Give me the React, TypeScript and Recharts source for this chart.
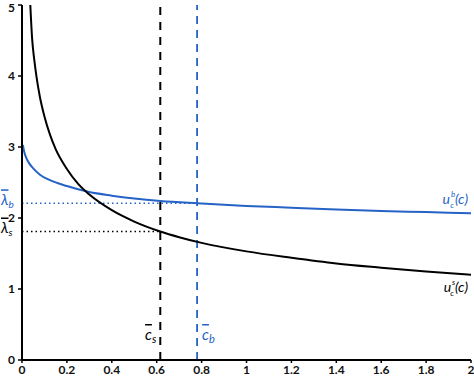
import { LineChart, Line, XAxis, YAxis, ReferenceLine, ReferenceDot } from 'recharts';

const xTicks = [0, 0.2, 0.4, 0.6, 0.8, 1, 1.2, 1.4, 1.6, 1.8, 2];
const yTicks = [0, 1, 2, 3, 4, 5];

// seller marginal utility u_c^s(c)
const sellerC = [0.037, 0.045, 0.055, 0.065, 0.08, 0.1, 0.125, 0.15, 0.2, 0.25, 0.3, 0.4, 0.5, 0.616, 0.7, 0.8, 1.0, 1.2, 1.4, 1.6, 1.8, 2.0];
const sellerU = [5.0, 4.53, 4.22, 3.98, 3.7, 3.43, 3.17, 2.97, 2.69, 2.48, 2.33, 2.11, 1.95, 1.81, 1.73, 1.65, 1.53, 1.44, 1.36, 1.3, 1.245, 1.2];

// buyer marginal utility u_c^b(c)
const buyerC = [0.004, 0.01, 0.02, 0.03, 0.05, 0.08, 0.12, 0.2, 0.3, 0.4, 0.5, 0.616, 0.78, 1.0, 1.2, 1.4, 1.6, 1.8, 2.0];
const buyerU = [3.03, 2.93, 2.84, 2.78, 2.7, 2.61, 2.54, 2.45, 2.365, 2.315, 2.275, 2.24, 2.207, 2.17, 2.145, 2.12, 2.1, 2.083, 2.066];

const cBarS = 0.616;
const cBarB = 0.78;
const lambdaS = 1.81;
const lambdaB = 2.207;

const BLUE = '#2563c6';
const FONT = 'Lato, "Open Sans", sans-serif';

const sellerData = sellerC.map((c, i) => ({ c, u: sellerU[i] }));
const buyerData = buyerC.map((c, i) => ({ c, u: buyerU[i] }));

function LambdaLabel({ viewBox, sub, color }: any) {
  const { x, y } = viewBox;
  return (
    <text x={x - 21} y={y + 2} fill={color} fontFamily={FONT} fontStyle="italic" fontSize={15}>
      <tspan style={{ textDecoration: 'overline' }}>λ</tspan>
      <tspan fontSize={10} dy={3}>{sub}</tspan>
    </text>
  );
}

function CBarLabel({ viewBox, sub, color, side }: any) {
  const { x, y, height } = viewBox;
  const left = side === 'left';
  return (
    <text
      x={left ? x - 4 : x + 5}
      y={y + height - 20}
      textAnchor={left ? 'end' : 'start'}
      fill={color}
      fontFamily={FONT}
      fontStyle="italic"
      fontSize={15}
    >
      <tspan style={{ textDecoration: 'overline' }}>c</tspan>
      <tspan fontSize={11} dy={3}>{sub}</tspan>
    </text>
  );
}

function CurveLabel({ viewBox, sup, color, offset }: any) {
  const cx = viewBox.x + viewBox.width / 2;
  const cy = viewBox.y + viewBox.height / 2;
  return (
    <text x={cx - 3} y={cy + offset} textAnchor="end" fill={color} fontFamily={FONT} fontStyle="italic" fontSize={14}>
      u
      <tspan fontSize={8} dx={1} dy={-7}>{sup}</tspan>
      <tspan fontSize={8} dx={-5} dy={11}>c</tspan>
      <tspan dx={1} dy={-4}>(c)</tspan>
    </text>
  );
}

export default function App() {
  return (
    <div style={{ position: 'absolute', left: 0, top: 0, background: '#fff' }}>
      <LineChart width={474} height={378} margin={{ top: 5, right: 3, bottom: 0, left: 0 }}>
        <XAxis
          type="number"
          dataKey="c"
          domain={[0, 2]}
          ticks={xTicks}
          allowDataOverflow
          height={18}
          tickSize={3}
          tickMargin={2}
          axisLine={{ stroke: '#000', strokeWidth: 2 }}
          tickLine={{ stroke: '#000', strokeWidth: 1.5 }}
          tick={{ fill: '#111', fontSize: 12, fontWeight: 700, fontFamily: FONT }}
        />
        <YAxis
          type="number"
          domain={[0, 5]}
          ticks={yTicks}
          allowDataOverflow
          width={22}
          tickSize={4}
          tickMargin={3}
          axisLine={{ stroke: '#000', strokeWidth: 2 }}
          tickLine={{ stroke: '#000', strokeWidth: 1.5 }}
          tick={{ fill: '#111', fontSize: 12, fontWeight: 700, fontFamily: FONT }}
        />
        <ReferenceLine
          segment={[{ x: 0, y: lambdaB }, { x: cBarB, y: lambdaB }]}
          stroke={BLUE}
          strokeWidth={1.5}
          strokeDasharray="1.5 3"
          label={(p: any) => <LambdaLabel viewBox={p.viewBox} sub="b" color={BLUE} />}
        />
        <ReferenceLine
          segment={[{ x: 0, y: lambdaS }, { x: cBarS, y: lambdaS }]}
          stroke="#000"
          strokeWidth={1.5}
          strokeDasharray="1.5 3"
          label={(p: any) => <LambdaLabel viewBox={p.viewBox} sub="s" color="#000" />}
        />
        <ReferenceLine
          x={cBarS}
          stroke="#000"
          strokeWidth={2}
          strokeDasharray="8 7"
          label={(p: any) => <CBarLabel viewBox={p.viewBox} sub="s" color="#000" side="left" />}
        />
        <ReferenceLine
          x={cBarB}
          stroke={BLUE}
          strokeWidth={1.8}
          strokeDasharray="8 6"
          label={(p: any) => <CBarLabel viewBox={p.viewBox} sub="b" color={BLUE} side="right" />}
        />
        <Line
          data={buyerData}
          dataKey="u"
          type="monotoneX"
          stroke={BLUE}
          strokeWidth={2}
          dot={false}
          isAnimationActive={false}
        />
        <Line
          data={sellerData}
          dataKey="u"
          type="monotoneX"
          stroke="#000"
          strokeWidth={2}
          dot={false}
          isAnimationActive={false}
        />
        <ReferenceDot
          x={buyerC[buyerC.length - 1]}
          y={buyerU[buyerU.length - 1]}
          r={0}
          fill="none"
          stroke="none"
          label={(p: any) => <CurveLabel viewBox={p.viewBox} sup="b" color={BLUE} offset={-9} />}
        />
        <ReferenceDot
          x={sellerC[sellerC.length - 1]}
          y={sellerU[sellerU.length - 1]}
          r={0}
          fill="none"
          stroke="none"
          label={(p: any) => <CurveLabel viewBox={p.viewBox} sup="s" color="#000" offset={17} />}
        />
      </LineChart>
    </div>
  );
}
